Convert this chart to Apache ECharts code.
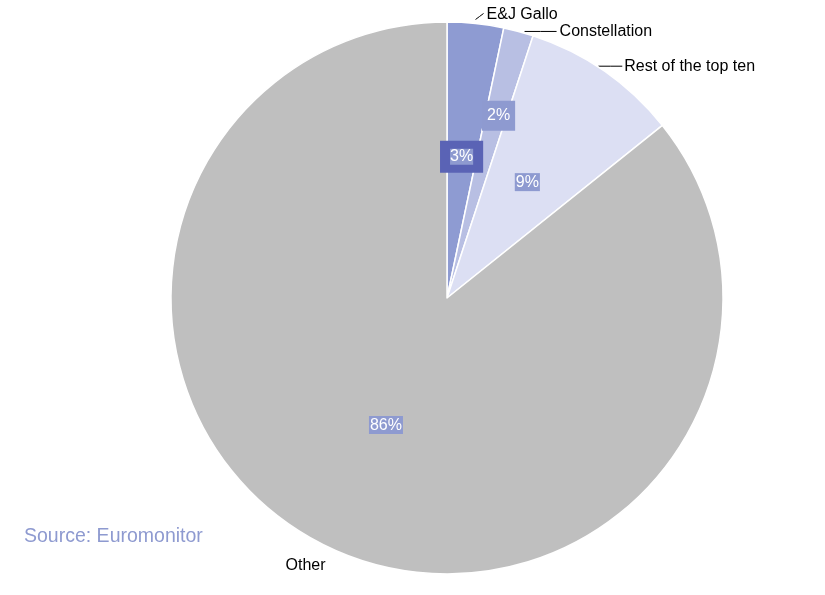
<!DOCTYPE html>
<html>
<head>
<meta charset="utf-8">
<script src="https://cdn.jsdelivr.net/npm/echarts@6/dist/echarts.min.js"></script>
<style>
html,body{margin:0;padding:0;background:#fff;}
#chart{width:825px;height:595px;}
</style>
</head>
<body>
<div id="chart"></div>
<script>
const categories = ['E&J Gallo', 'Constellation', 'Rest of the top ten', 'Other'];
const shares = [3.3, 1.75, 9.2, 85.75];
const sliceColors = ['#8e9bd2', '#b8bfe3', '#dcdff3', '#bfbfbf'];
const sourceText = 'Source: Euromonitor';

const FONT = '"Liberation Sans", Arial, sans-serif';
const CENTER = [447, 298];
const RADIUS = 276;
const chart = echarts.init(document.getElementById('chart'), null, {renderer: 'canvas'});

const pctLabelStyles = [
  {backgroundColor: '#5a63b5', padding: [8, 10, 8, 10]},
  {backgroundColor: '#8e9ad0', padding: [7, 5, 7, 5]},
  {backgroundColor: '#8e9ad0', padding: [1, 1, 1, 1]},
  {backgroundColor: '#8e9ad0', padding: [1, 1, 1, 1]}
];
const pctOffsets = [[0, -1], [15, -46], [0, 0], [0, 0]];

// label placement relative to the slice's outer edge at its mid angle
const nameLabelPlacement = [
  {dx: 11, dy: -9, align: 'left', line: [[0, -4], [4, -7], [8, -10]]},
  {dx: 41, dy: 0.5, align: 'left', line: [[6, 0], [22, 0], [38, 0]]},
  {dx: 20, dy: -5, align: 'left', line: [[-6, -5], [6, -5], [18, -5]]},
  {dx: -2, dy: 19, align: 'right', line: null}
];

const total = shares.reduce((a, b) => a + b, 0);
const edgePoints = [];
(function () {
  let cum = 0;
  shares.forEach(v => {
    const mid = (cum + v / 2) / total * 2 * Math.PI;
    edgePoints.push([CENTER[0] + RADIUS * Math.sin(mid), CENTER[1] - RADIUS * Math.cos(mid)]);
    cum += v;
  });
})();

const pieData = categories.map((c, i) => ({
  name: c,
  value: shares[i],
  itemStyle: {color: sliceColors[i]},
  label: Object.assign({}, pctLabelStyles[i])
}));

const nameData = categories.map((c, i) => ({
  name: c,
  value: shares[i],
  labelLine: {show: !!nameLabelPlacement[i].line}
}));

chart.setOption({
  animation: false,
  graphic: [{
    type: 'text', left: 24, top: 527,
    style: {text: sourceText, fill: '#8e9ad0', font: '19.5px ' + FONT}
  }],
  series: [
    {
      type: 'pie',
      center: CENTER,
      radius: [0, RADIUS],
      startAngle: 90,
      clockwise: true,
      percentPrecision: 0,
      avoidLabelOverlap: false,
      itemStyle: {borderColor: '#ffffff', borderWidth: 1.5},
      label: {
        position: 'inside',
        formatter: function (p) {
          return p.dataIndex === 0 ? '{t|' + p.percent + '%}' : p.percent + '%';
        },
        color: '#ffffff',
        fontSize: 16,
        fontFamily: FONT,
        rich: {
          t: {backgroundColor: '#8e9ad0', color: '#ffffff', fontSize: 16, fontFamily: FONT, lineHeight: 16}
        }
      },
      labelLine: {show: false},
      labelLayout: function (p) {
        const o = pctOffsets[p.dataIndex];
        return {dx: o[0], dy: o[1]};
      },
      emphasis: {disabled: true},
      data: pieData
    },
    {
      type: 'pie',
      center: CENTER,
      radius: [0, RADIUS],
      startAngle: 90,
      clockwise: true,
      silent: true,
      avoidLabelOverlap: false,
      itemStyle: {color: 'rgba(0,0,0,0)', borderWidth: 0},
      label: {
        position: 'outside',
        formatter: '{b}',
        color: '#000000',
        fontSize: 16,
        fontFamily: FONT
      },
      labelLine: {lineStyle: {color: '#000000', width: 1}, length: 5, length2: 5},
      labelLayout: function (p) {
        const pl = nameLabelPlacement[p.dataIndex];
        const e = edgePoints[p.dataIndex];
        const res = {
          x: e[0] + pl.dx,
          y: e[1] + pl.dy,
          align: pl.align,
          verticalAlign: 'middle'
        };
        if (pl.line) {
          res.labelLinePoints = pl.line.map(d => [e[0] + d[0], e[1] + d[1]]);
        }
        return res;
      },
      emphasis: {disabled: true},
      data: nameData
    }
  ]
});
</script>
</body>
</html>
